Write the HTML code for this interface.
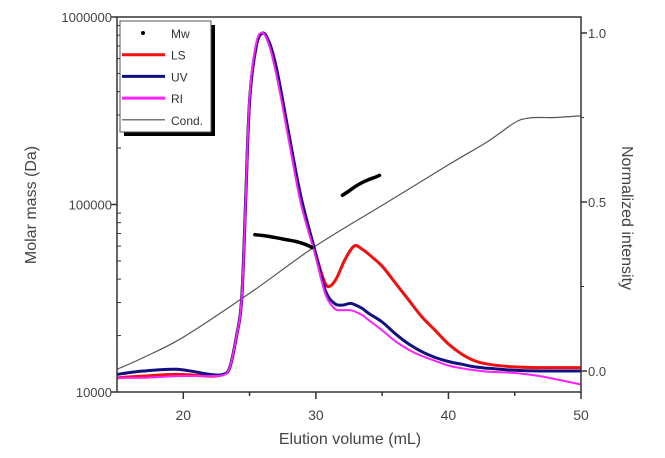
<!DOCTYPE html>
<html><head><meta charset="utf-8"><style>
body{margin:0;background:#fff;}
svg{display:block;font-family:"Liberation Sans",sans-serif;}
</style></head><body>
<svg id="chart" width="665" height="458"></svg>
<script>
const xTicks=[20,30,40,50];
const xMinor=[25,35,45];
const yLeftTicks=[10000,100000,1000000];
const yLeftLabels=["10000","100000","1000000"];
const yRightTicks=[0,0.5,1.0];
const yRightLabels=["0.0","0.5","1.0"];
const lsX=[15,17,19.5,22,23,23.5,24,24.4,24.7,25,25.5,26,26.5,27,27.5,28.2,28.9,29.9,30.5,30.9,31.5,32.2,32.9,33.5,34,35,36,37,38,39,40,41,42,43,45,47,50];
const lsY=[-0.02,-0.015,-0.01,-0.015,-0.01,0.01,0.1,0.21,0.5,0.8,0.96,1.0,0.97,0.9,0.8,0.65,0.51,0.36,0.28,0.25,0.27,0.33,0.37,0.36,0.345,0.31,0.26,0.21,0.16,0.12,0.08,0.05,0.03,0.02,0.012,0.01,0.01];
const uvX=[15,17,19.5,22,23,23.5,24,24.4,24.7,25,25.5,26,26.5,27,27.5,28.2,28.9,29.9,30.7,31.4,32,32.6,33,33.5,34,35,36,37,38,39,40,41,42,43,45,47,50];
const uvY=[-0.01,0.0,0.005,-0.01,-0.01,0.01,0.1,0.21,0.5,0.8,0.96,1.0,0.97,0.9,0.8,0.65,0.51,0.36,0.24,0.2,0.195,0.2,0.195,0.185,0.17,0.145,0.11,0.08,0.057,0.04,0.028,0.02,0.012,0.008,0.002,0.0,0.0];
const riX=[15,17,19.5,22,23,23.5,24,24.4,24.7,25,25.5,26,26.5,27,27.5,28.2,28.9,29.9,30.7,31.4,32,32.6,33,33.5,34,35,36,37,38,39,40,41,42,43,45,47,50];
const riY=[-0.02,-0.02,-0.015,-0.015,-0.012,0.01,0.1,0.21,0.5,0.81,0.97,1.0,0.96,0.88,0.78,0.63,0.49,0.35,0.23,0.185,0.18,0.18,0.175,0.165,0.15,0.12,0.088,0.063,0.044,0.03,0.016,0.008,0.002,-0.002,-0.006,-0.016,-0.04];
const condX=[15,17,20,25,30,35,40,43,45,46,47,48,50];
const condY=[0.005,0.04,0.1,0.23,0.37,0.49,0.61,0.68,0.735,0.748,0.75,0.75,0.755];
const mw1X=[25.4,26,26.5,27,27.5,28,28.5,29,29.4,29.7];
const mw1Y=[69000,68300,67500,66500,65500,64500,63500,62000,60500,59000];
const mw2X=[32,32.5,33,33.5,34,34.5,34.8];
const mw2Y=[112000,118000,125000,131000,136000,140000,143000];

const L=117,R=581,T=17,B=392;
const xs=v=>L+(v-15)/35*(R-L);
const yl=v=>B-(Math.log10(v)-4)/2*(B-T);
const yr=v=>371-v*338;
const svg=document.getElementById('chart');
const NS='http://www.w3.org/2000/svg';
function mk(t,a,p){const e=document.createElementNS(NS,t);for(const k in a)e.setAttribute(k,a[k]);(p||svg).appendChild(e);return e;}
function path(xa,ya,f){
 const P=xa.map((x,i)=>[xs(x),f(ya[i])]);
 let d='M'+P[0][0].toFixed(1)+','+P[0][1].toFixed(1);
 for(let i=0;i<P.length-1;i++){
  const p0=P[Math.max(0,i-1)],p1=P[i],p2=P[i+1],p3=P[Math.min(P.length-1,i+2)];
  const c1=[p1[0]+(p2[0]-p0[0])/6,p1[1]+(p2[1]-p0[1])/6];
  const c2=[p2[0]-(p3[0]-p1[0])/6,p2[1]-(p3[1]-p1[1])/6];
  d+=`C${c1[0].toFixed(1)},${c1[1].toFixed(1)} ${c2[0].toFixed(1)},${c2[1].toFixed(1)} ${p2[0].toFixed(1)},${p2[1].toFixed(1)}`;
 }
 return d;
}

let e;
e=mk('path',{d:path(condX,condY,yr),fill:'none',stroke:'#555',"stroke-width":1.2});


e=mk('path',{d:path(lsX,lsY,yr),fill:'none',stroke:'#f01010',"stroke-width":3,"stroke-linejoin":"round"});


e=mk('path',{d:path(uvX,uvY,yr),fill:'none',stroke:'#101080',"stroke-width":3,"stroke-linejoin":"round"});


e=mk('path',{d:path(riX,riY,yr),fill:'none',stroke:'#ff20ff',"stroke-width":2,"stroke-linejoin":"round"});


e=mk('path',{d:path(mw1X,mw1Y,yl),fill:'none',stroke:'#000',"stroke-width":3.5,"stroke-linecap":"round"});


e=mk('path',{d:path(mw2X,mw2Y,yl),fill:'none',stroke:'#000',"stroke-width":3.5,"stroke-linecap":"round"});



e=mk('path',{d:`M${L},${T}H${R}V${B}H${L}Z`,fill:'none',stroke:'#333',"stroke-width":1.5});


xTicks.forEach(v=>{
 mk('line',{x1:xs(v),x2:xs(v),y1:B,y2:B+7,stroke:'#333',"stroke-width":1.5});
 e=mk('text',{x:xs(v),y:B+28,"text-anchor":"middle","font-size":14,fill:'#444'});e.textContent=v;
 
 
});
xMinor.forEach(v=>mk('line',{x1:xs(v),x2:xs(v),y1:B,y2:B+4,stroke:'#333',"stroke-width":1.5}));
yLeftTicks.forEach((v,i)=>{
 mk('line',{x1:L-6,x2:L,y1:yl(v),y2:yl(v),stroke:'#333',"stroke-width":1.5});
 e=mk('text',{x:L-5,y:yl(v)+5,"text-anchor":"end","font-size":13,fill:'#444'});e.textContent=yLeftLabels[i];
 
 
});
for(let d=4;d<6;d++)for(let m=2;m<10;m++){const y=yl(m*Math.pow(10,d));mk('line',{x1:L,x2:L+4,y1:y,y2:y,stroke:'#333',"stroke-width":1});}
yRightTicks.forEach((v,i)=>{
 mk('line',{x1:R,x2:R+6,y1:yr(v),y2:yr(v),stroke:'#333',"stroke-width":1.5});
 e=mk('text',{x:R+7,y:yr(v)+5,"font-size":13,fill:'#444'});e.textContent=yRightLabels[i];
 
 
});
[0.25,0.75].forEach(v=>mk('line',{x1:R,x2:R+3,y1:yr(v),y2:yr(v),stroke:'#333',"stroke-width":1}));

e=mk('text',{x:350,y:444,"text-anchor":"middle","font-size":16,fill:'#444'});e.textContent='Elution volume (mL)';


e=mk('text',{x:0,y:0,"text-anchor":"middle","font-size":16,fill:'#444',transform:'translate(36,205) rotate(-90)'});e.textContent='Molar mass (Da)';


e=mk('text',{x:0,y:0,"text-anchor":"middle","font-size":16,fill:'#444',transform:'translate(622,218) rotate(90)'});e.textContent='Normalized intensity';



const g=mk('g',{});


mk('rect',{x:124,y:25,width:91,height:111,fill:'#000'},g);
mk('rect',{x:120,y:21,width:91,height:111,fill:'#fff',stroke:'#555',"stroke-width":1},g);
const lg=[['Mw','dot','#000'],['LS','line','#f01010'],['UV','line','#101080'],['RI','line','#ff20ff'],['Cond.','thin','#777']];
lg.forEach((it,i)=>{
 const y=33+i*21.7;
 if(it[1]==='dot')mk('circle',{cx:143,cy:y,r:2,fill:'#000'},g);
 else mk('line',{x1:122,x2:165,y1:y,y2:y,stroke:it[2],"stroke-width":it[1]==='thin'?1.5:3},g);
 const t=mk('text',{x:171,y:y+5,"font-size":12,fill:'#333'},g);t.textContent=it[0];
 
 
});
</script>
</body></html>
